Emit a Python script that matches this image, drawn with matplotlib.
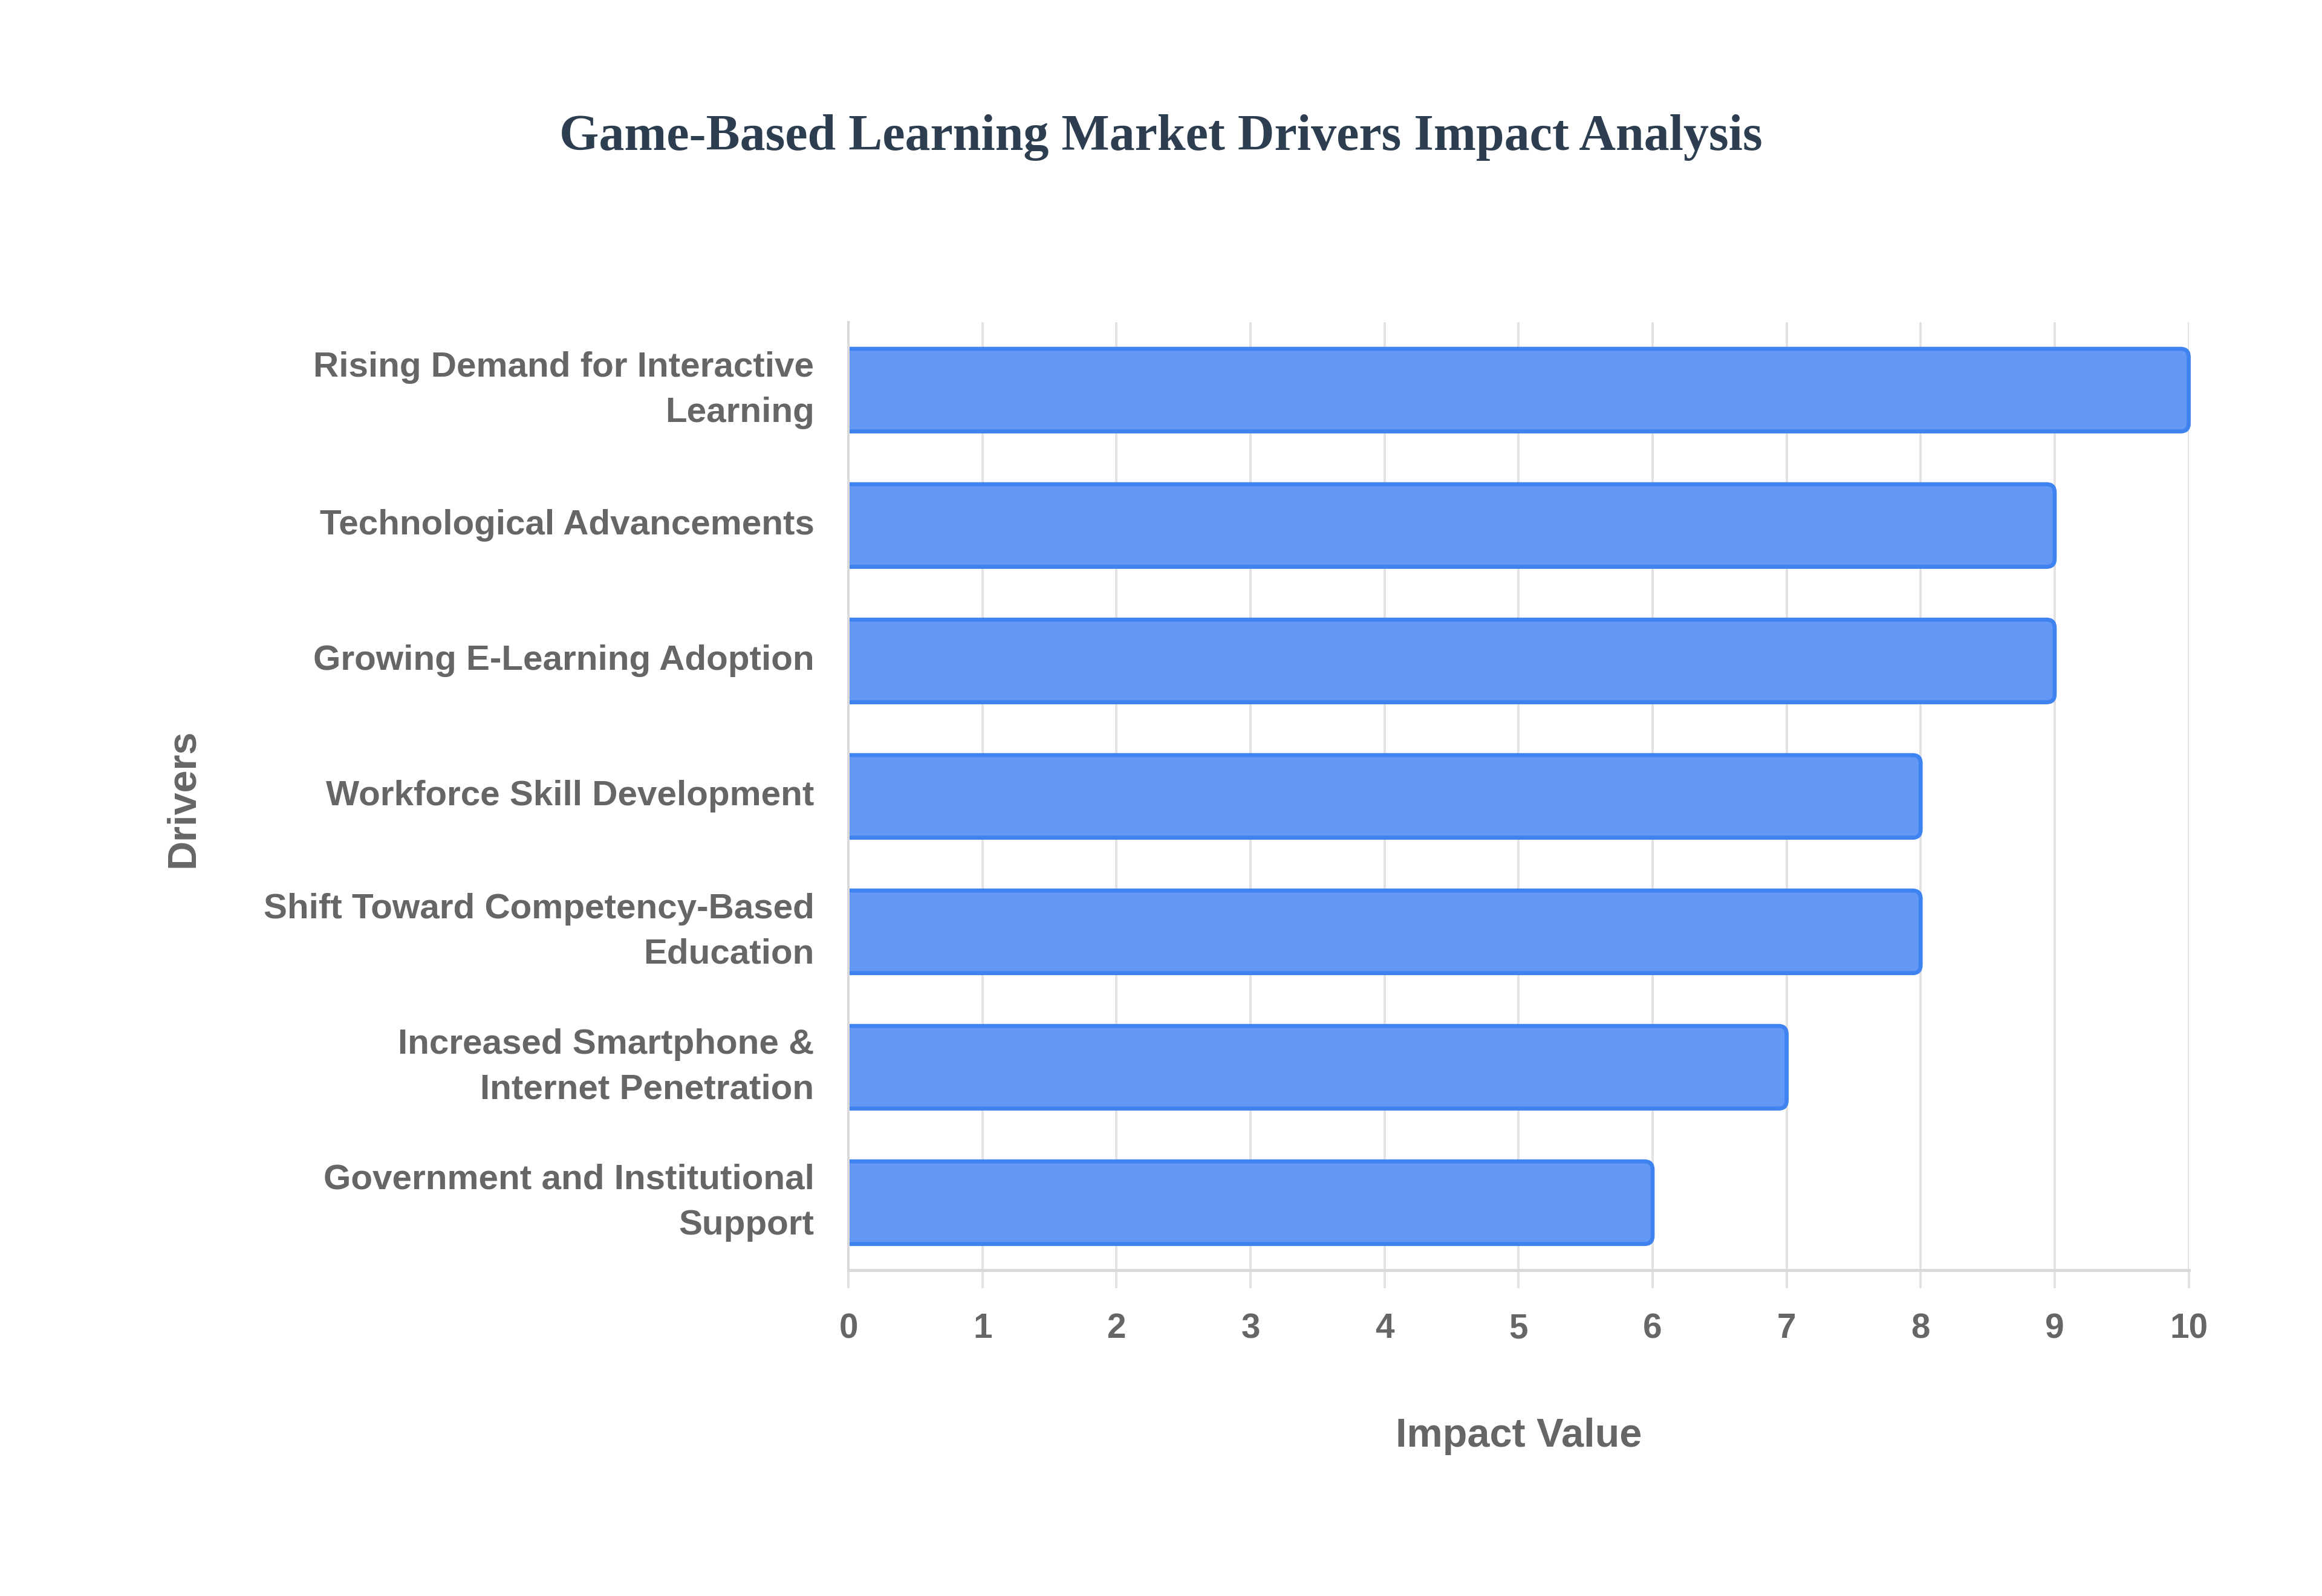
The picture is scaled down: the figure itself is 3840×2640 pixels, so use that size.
import matplotlib
matplotlib.use("Agg")
import matplotlib.pyplot as plt
from matplotlib.patches import FancyBboxPatch, Rectangle

drivers = [
    "Rising Demand for Interactive\nLearning",
    "Technological Advancements",
    "Growing E-Learning Adoption",
    "Workforce Skill Development",
    "Shift Toward Competency-Based\nEducation",
    "Increased Smartphone &\nInternet Penetration",
    "Government and Institutional\nSupport",
]
impact = [10, 9, 9, 8, 8, 7, 6]
x_ticks = list(range(0, 11))

title = "Game-Based Learning Market Drivers Impact Analysis"

fig = plt.figure(figsize=(16, 11), dpi=240)
ax = fig.add_axes([0.3654, 0.204, 0.9426 - 0.3654, 0.798 - 0.204])

ypos = list(range(len(drivers)))
bars = ax.barh(ypos, impact, height=0.61, color="none", edgecolor="none", zorder=3)
clip = Rectangle((0, -1), 11, len(drivers) + 2, transform=ax.transData)
for b in bars:
    ext = 0.1
    p = FancyBboxPatch((b.get_x() - ext, b.get_y()), b.get_width() + ext, b.get_height(),
                       boxstyle="round,pad=0,rounding_size=0.06", mutation_aspect=1.0,
                       facecolor="#6399F5", edgecolor="#3F83F0", linewidth=2.0,
                       zorder=3)
    ax.add_patch(p)
    p.set_clip_path(clip)

ax.set_xlim(0, 10)
ax.set_ylim(len(drivers) - 0.5, -0.5)
ax.set_yticks(ypos)
ax.set_yticklabels(drivers, fontfamily="Liberation Sans", fontweight="bold",
                   fontsize=17.5, color="#666666", linespacing=1.5, va="center")
ax.set_xticks(x_ticks)
ax.set_xticklabels([str(t) for t in x_ticks], fontfamily="Liberation Sans",
                   fontweight="bold", fontsize=17, color="#666666")

ax.grid(axis="x", color="#e3e3e3", linewidth=1.2, zorder=0)
for s in ["top", "right"]:
    ax.spines[s].set_visible(False)
ax.spines["left"].set_color("#d9d9d9")
ax.spines["left"].set_linewidth(1.2)
ax.spines["left"].set_zorder(4)
ax.spines["bottom"].set_color("#d9d9d9")
ax.spines["bottom"].set_linewidth(1.5)
ax.tick_params(axis="y", length=0, pad=17)
ax.tick_params(axis="x", length=9, width=1.2, color="#e3e3e3", pad=12)

ax.set_xlabel("Impact Value", fontfamily="Liberation Sans", fontweight="bold",
              fontsize=20, color="#666666", labelpad=36)
fig.text(0.079, 0.5, "Drivers", rotation=90, ha="center", va="center",
         fontfamily="Liberation Sans", fontweight="bold", fontsize=20, color="#666666")

fig.text(0.5, 0.914, title, ha="center", va="center", fontfamily="Liberation Serif",
         fontweight="bold", fontsize=25.2, color="#2C3E50")

fig.savefig("out.png", dpi=240, facecolor="white")
